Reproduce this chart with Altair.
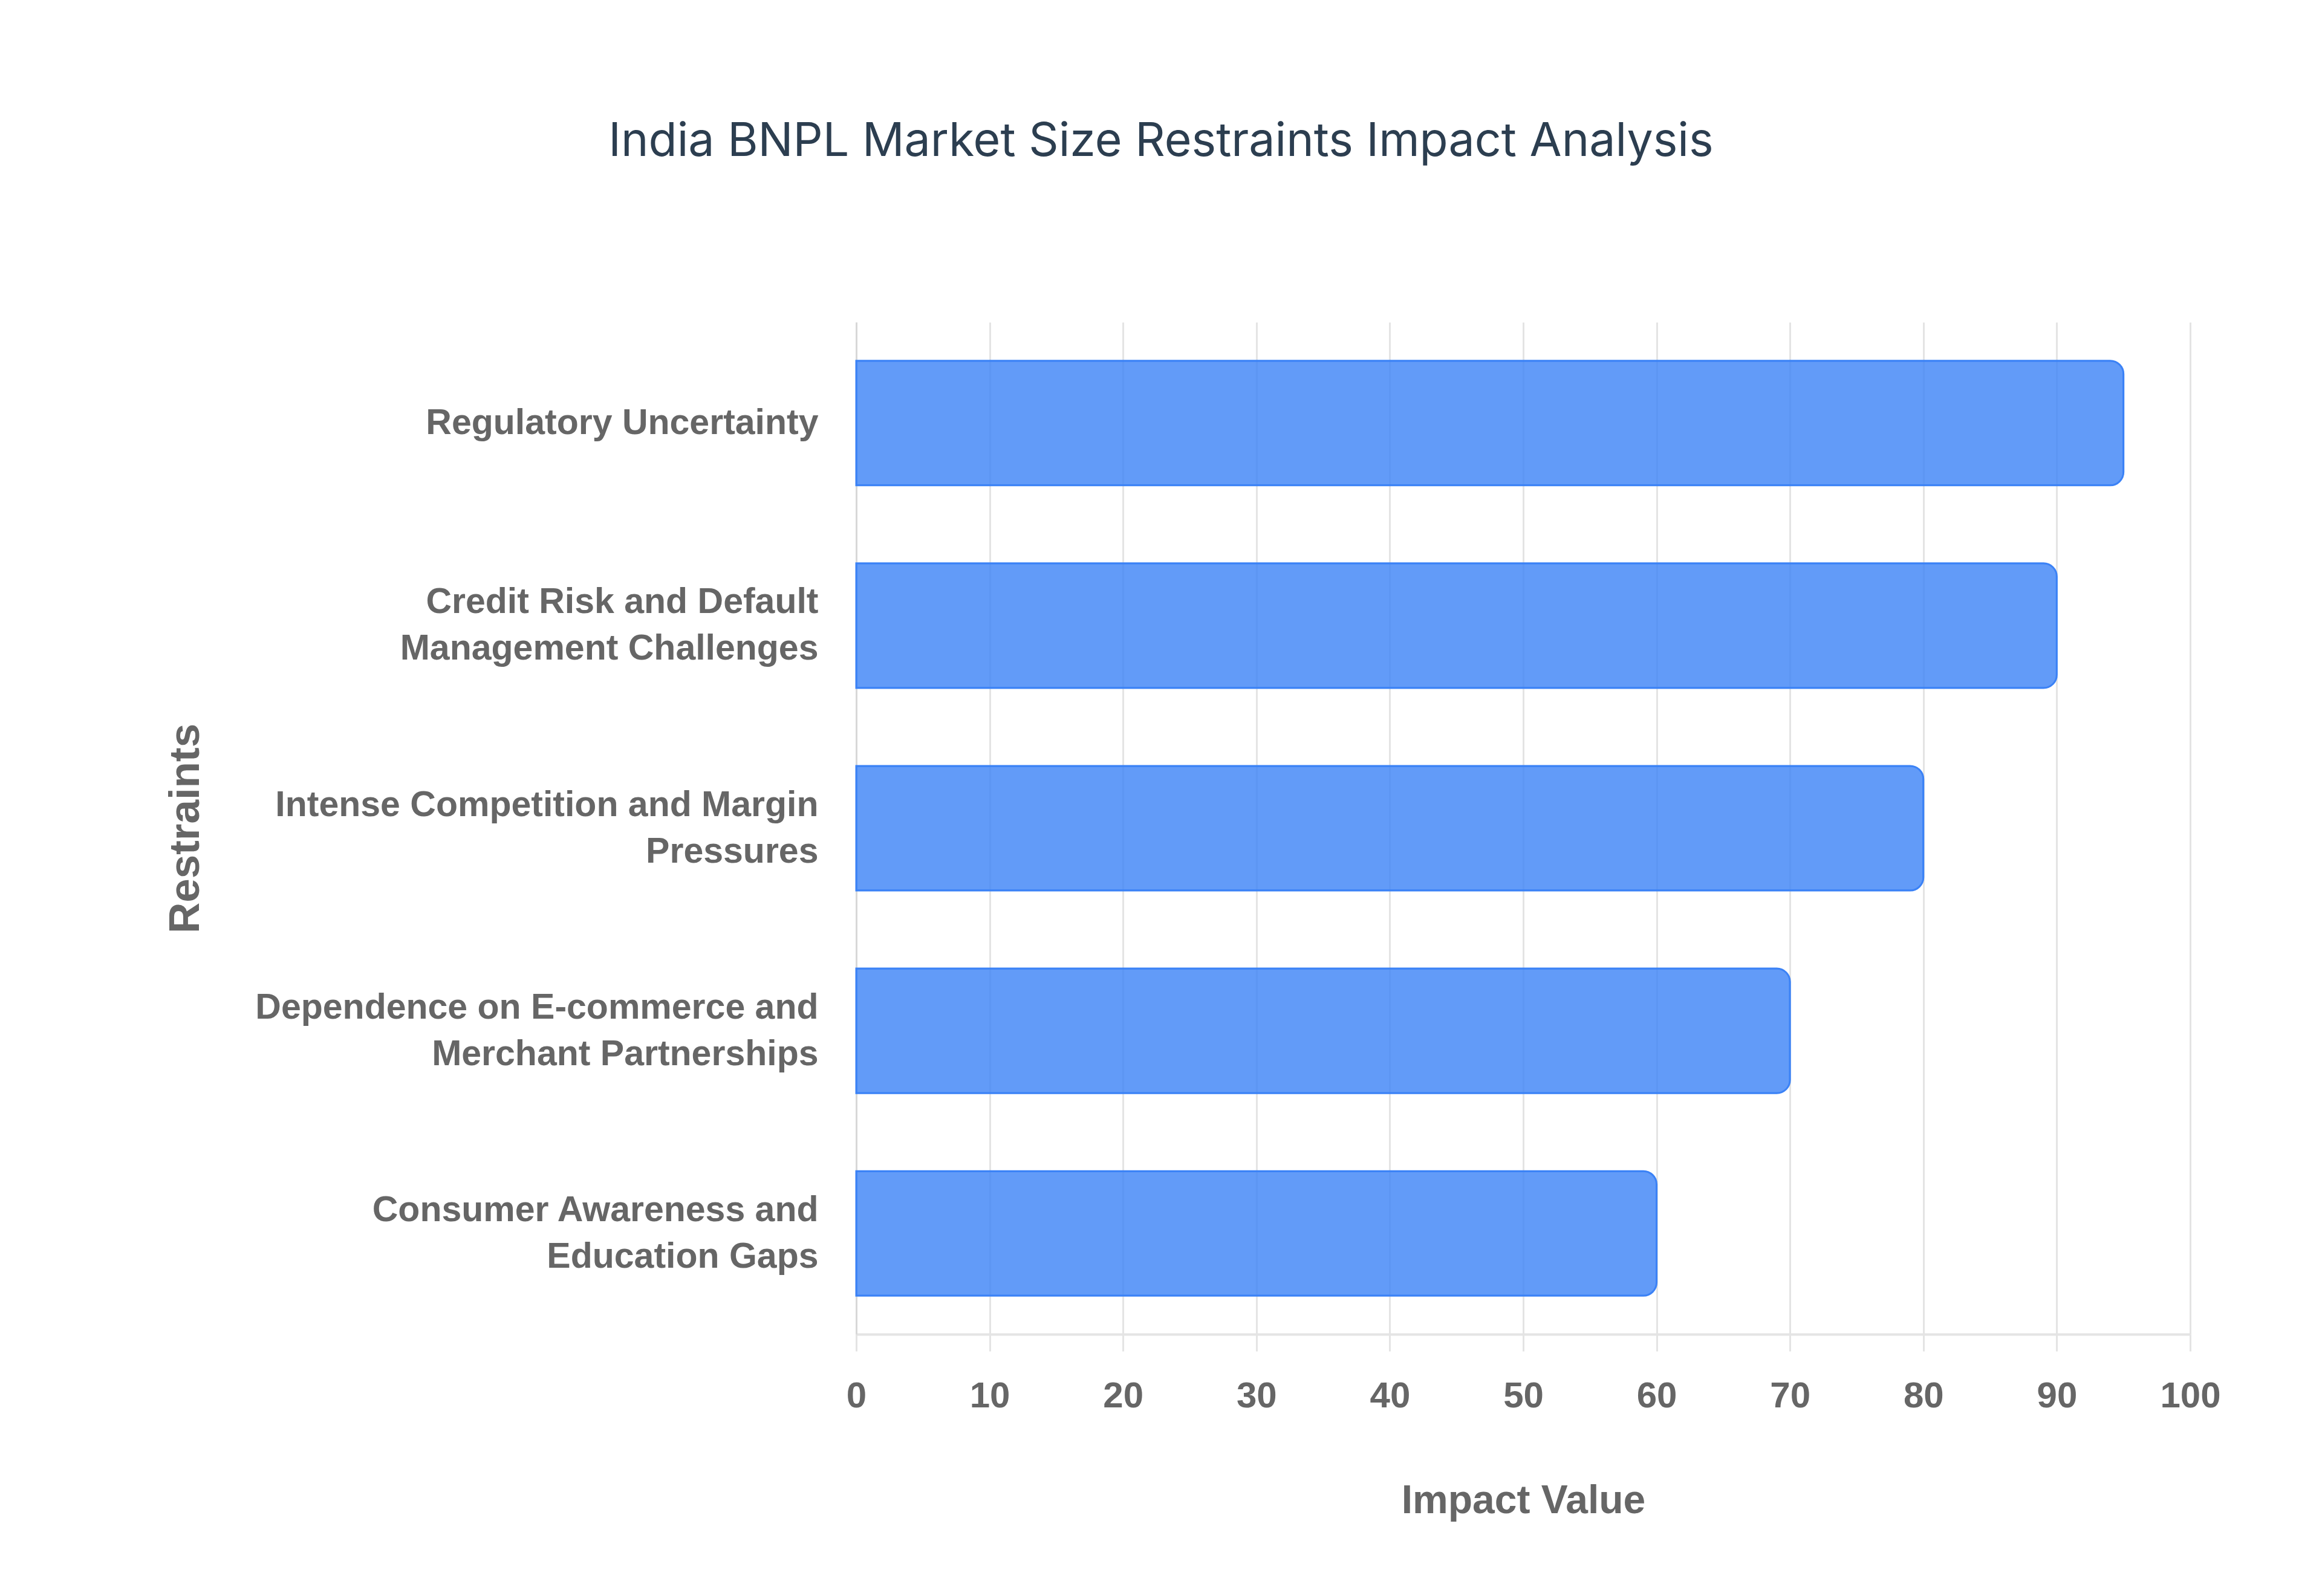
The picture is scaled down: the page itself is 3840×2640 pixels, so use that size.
import altair as alt
import pandas as pd

restraint_lines = [
    ["Regulatory Uncertainty"],
    ["Credit Risk and Default", "Management Challenges"],
    ["Intense Competition and Margin", "Pressures"],
    ["Dependence on E-commerce and", "Merchant Partnerships"],
    ["Consumer Awareness and", "Education Gaps"],
]
impact_values = [95, 90, 80, 70, 60]
x_ticks = [0, 10, 20, 30, 40, 50, 60, 70, 80, 90, 100]

restraints = ["\n".join(lines) for lines in restraint_lines]
df = pd.DataFrame({"Restraint": restraints, "Impact": impact_values})

FONT = "Liberation Sans, Arial, Helvetica, sans-serif"
GRAY = "#666666"
GRID = "#e4e4e4"
LINE_H = 77

bars = alt.Chart(df).mark_bar(
    color="#3b82f6",
    fillOpacity=0.8,
    stroke="#3b82f6",
    strokeWidth=3,
    cornerRadiusEnd=22,
).encode(
    x=alt.X(
        "Impact:Q",
        scale=alt.Scale(domain=[0, 100], nice=False, zero=True),
        axis=alt.Axis(
            values=x_ticks,
            title="Impact Value",
            grid=True,
            gridColor=GRID,
            gridWidth=3,
            domain=True,
            domainColor=GRID,
            domainWidth=4,
            ticks=True,
            tickColor=GRID,
            tickWidth=3,
            tickSize=28,
            labelFont=FONT,
            labelFontWeight="bold",
            labelFontSize=60,
            labelColor=GRAY,
            labelBaseline="alphabetic",
            labelPadding=92,
            labelFlush=False,
            titleFont=FONT,
            titleFontWeight="bold",
            titleFontSize=66,
            titleColor=GRAY,
            titleBaseline="alphabetic",
            titleY=295,
        ),
    ),
    y=alt.Y(
        "Restraint:N",
        sort=restraints,
        scale=alt.Scale(paddingInner=0.385, paddingOuter=0.19),
        axis=alt.Axis(
            title="Restraints",
            grid=False,
            domain=True,
            domainColor="#d8d8d8",
            domainWidth=3,
            ticks=False,
            tickSize=0,
            labelExpr="split(datum.label, '\\n')",
            labelFont=FONT,
            labelFontWeight="bold",
            labelFontSize=59,
            labelLineHeight=LINE_H,
            labelColor=GRAY,
            labelPadding=63,
            labelLimit=2000,
            labelOffset={
                "condition": {
                    "test": "indexof(datum.value, '\\n') >= 0",
                    "value": -LINE_H / 2,
                },
                "value": 0,
            },
            titleFont=FONT,
            titleFontWeight="bold",
            titleFontSize=71,
            titleColor=GRAY,
            titleAngle=270,
            titleAlign="center",
            titleBaseline="alphabetic",
            titleX=-1088,
            titleY=837,
        ),
    ),
)

chart = bars.properties(
    width=2206,
    height=1674,
    title=alt.TitleParams(
        "India BNPL Market Size Restraints Impact Analysis",
        font="Inter, Liberation Sans, sans-serif",
        fontSize=77,
        fontWeight="normal",
        color="#2c3e50",
        anchor="middle",
        frame="group",
        baseline="alphabetic",
        dx=-599,
        offset=198,
    ),
    autosize=alt.AutoSizeParams(type="none"),
    padding={"left": 1408, "top": 525, "right": 210, "bottom": 425},
    background="white",
).configure_view(stroke=None)

chart.save("out.html", embed_options={"renderer": "svg", "actions": False})
